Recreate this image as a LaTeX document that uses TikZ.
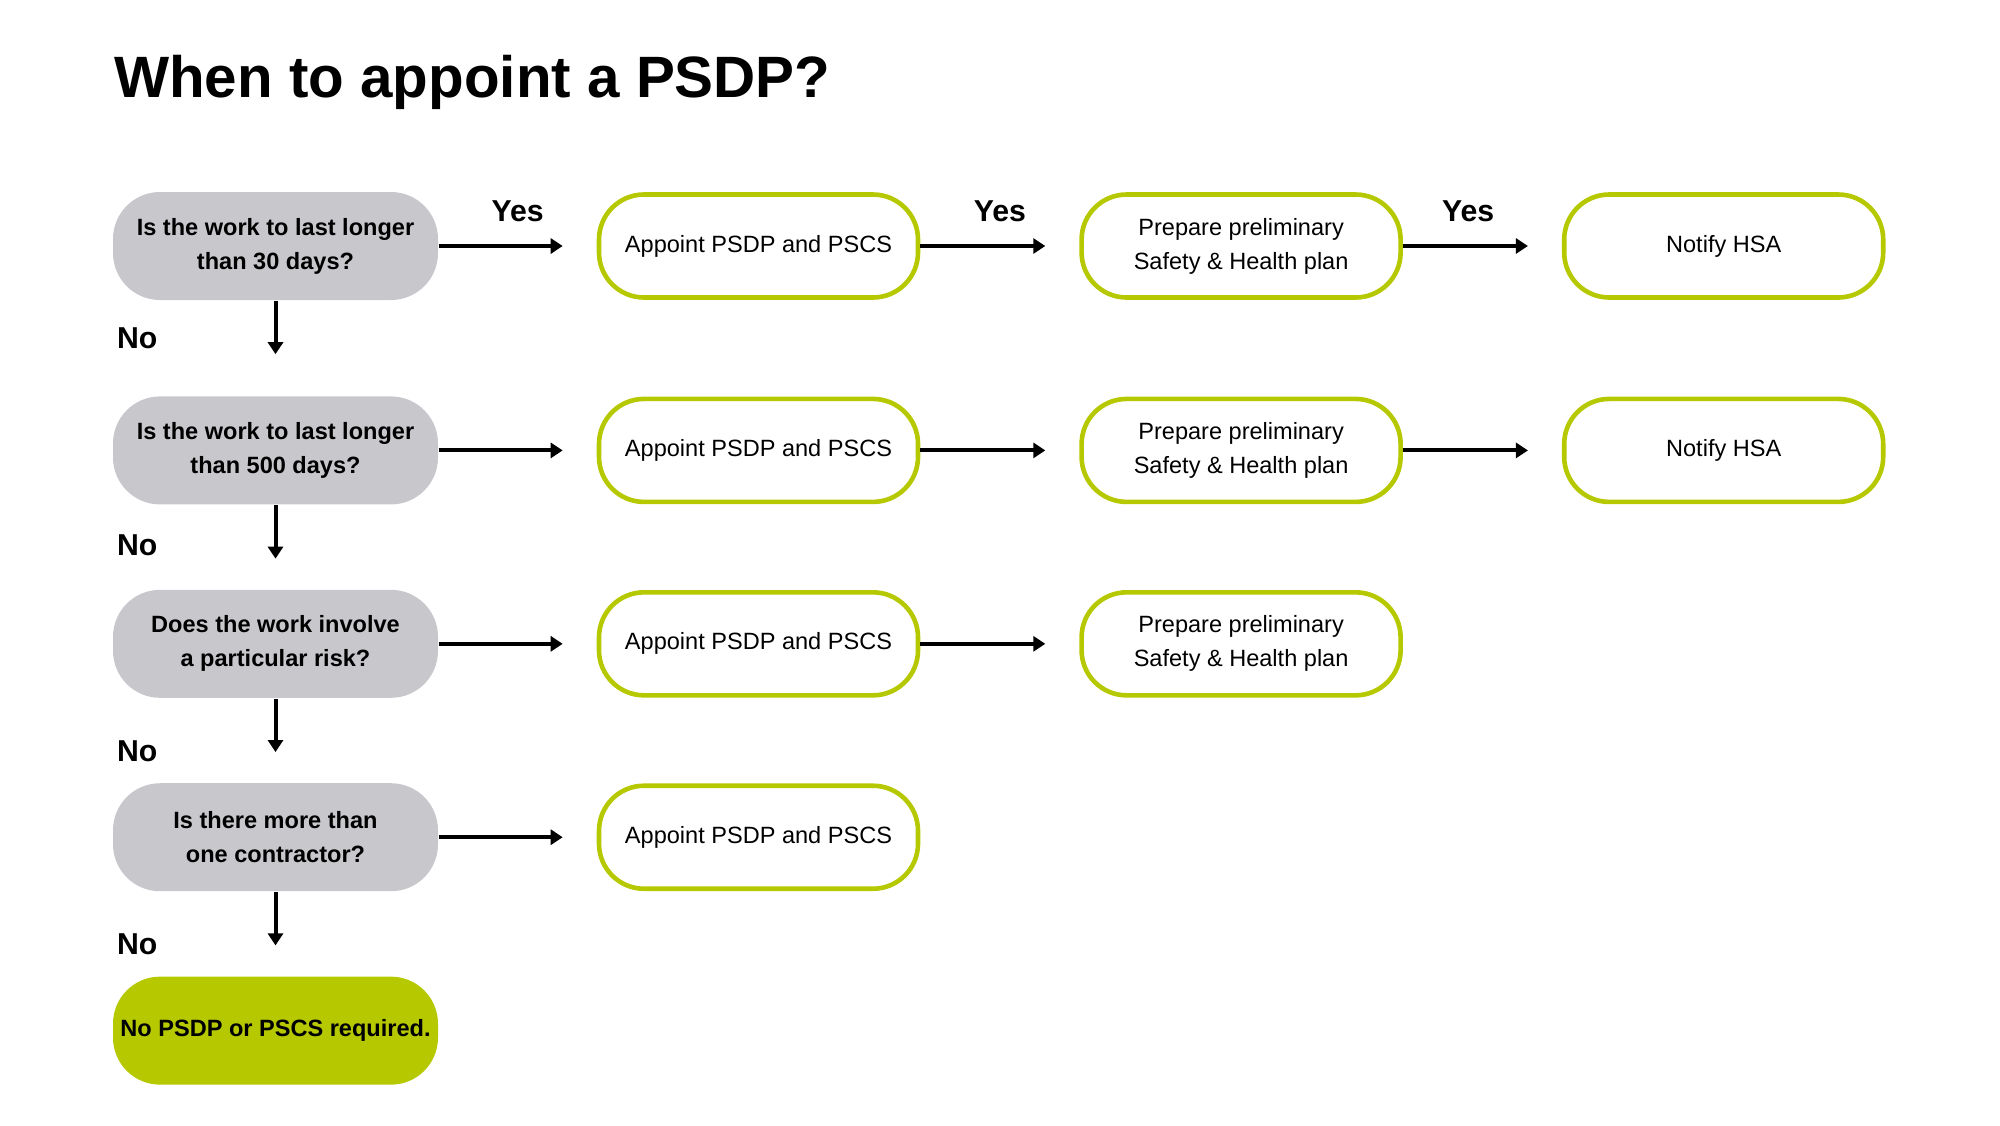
\documentclass[tikz,border=0pt]{standalone}
\usepackage{fontspec}
\setmainfont{Liberation Sans}
\usepackage{tikz}
\usetikzlibrary{positioning}
\usetikzlibrary{arrows.meta}
\definecolor{lime}{RGB}{181,200,0}
\definecolor{greybox}{RGB}{200,199,204}

\begin{document}
\begin{tikzpicture}[
	myquestion/.style={
		rectangle,
		rounded corners=0.47cm,
		fill=greybox,
		minimum width=3.25cm,
		minimum height=1.08cm,
		inner sep=0pt,
		align=center,
		font=\fontsize{6.7pt}{9.7pt}\selectfont\bfseries},
	mystep/.style={
		rectangle,
		rounded corners=0.45cm,
		draw=lime,
		line width=0.046cm,
		fill=white,
		minimum width=3.19cm,
		minimum height=1.03cm,
		inner sep=0pt,
		align=center,
		font=\fontsize{6.7pt}{9.7pt}\selectfont},
	myend/.style={myquestion,fill=lime},
	mylabel/.style={font=\fontsize{8.6pt}{10pt}\selectfont\bfseries,inner sep=0.04cm},
	myarrow/.style={-{Triangle[length=0.12cm,width=0.15cm]},line width=0.04cm},
	node distance=0.84cm and 1.59cm
	]
	\path[use as bounding box] (0,0) rectangle (20,-11.25);

	\node[font=\fontsize{16.6pt}{20pt}\selectfont\bfseries,anchor=base west,inner sep=0pt] (title) at (1.135,-0.97) {When to appoint a PSDP?};

	% left column: the questions
	\node[myquestion] (q1) at (2.755,-2.46) {Is the work to last longer\\than 30 days?};
	\node[myquestion,below=0.95cm of q1] (q2) {Is the work to last longer\\than 500 days?};
	\node[myquestion,below=of q2] (q3) {Does the work involve\\a particular risk?};
	\node[myquestion,below=of q3] (q4) {Is there more than\\one contractor?};
	\node[myend,below=of q4] (none) {No PSDP or PSCS required.};

	% what to do
	\node[mystep,right=1.58cm of q1] (a1) {Appoint PSDP and PSCS};
	\node[mystep,right=of a1] (p1) {Prepare preliminary\\Safety \& Health plan};
	\node[mystep,right=of p1] (h1) {Notify HSA};
	\node[mystep,right=1.58cm of q2] (a2) {Appoint PSDP and PSCS};
	\node[mystep,right=of a2] (p2) {Prepare preliminary\\Safety \& Health plan};
	\node[mystep,right=of p2] (h2) {Notify HSA};
	\node[mystep,right=1.58cm of q3] (a3) {Appoint PSDP and PSCS};
	\node[mystep,right=of a3] (p3) {Prepare preliminary\\Safety \& Health plan};
	\node[mystep,right=1.58cm of q4] (a4) {Appoint PSDP and PSCS};

	\foreach \i/\j/\p in {% start node/end node/label position
		q1/a1/0.5,
		a1/p1/0.5,
		p1/h1/0.41}
		\draw [myarrow,shorten >=0.34cm] (\i.east) -- node[mylabel,above=0.18cm,pos=\p] {Yes} (\j.west);

	\foreach \i/\j in {q2/a2, a2/p2, p2/h2, q3/a3, a3/p3, q4/a4}
		\draw [myarrow,shorten >=0.34cm] (\i.east) -- (\j.west);

	% the No arrows end in free space
	\foreach \i/\d in {q1/0.22, q2/0.246, q3/0.37, q4/0.37} {
		\coordinate[below=0.535cm of \i.south] (d\i);
		\draw [myarrow] (\i.south) -- (d\i);
		\node[mylabel,below right=\d cm and 0cm of \i.south west] (no\i) {No};
	}
\end{tikzpicture}
\end{document}
